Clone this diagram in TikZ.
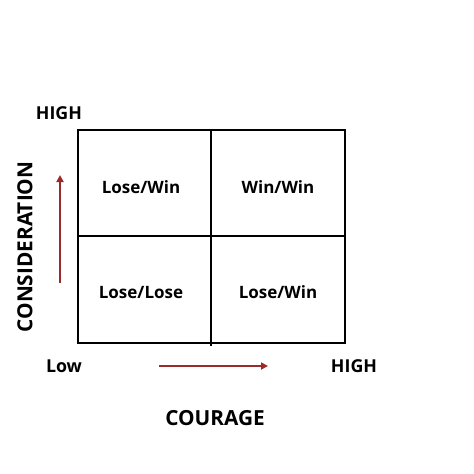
\documentclass[tikz,border=0pt]{standalone}
\usepackage{fontspec}
\setmainfont{Open Sans}
\usetikzlibrary{arrows.meta}
\definecolor{arrowred}{HTML}{9B2B2B}
\begin{document}
\begin{tikzpicture}[x=1pt,y=-1pt,
  cell/.style={font=\bfseries\fontsize{17}{19}\selectfont},
  axislabel/.style={font=\bfseries\fontsize{17.8}{20}\selectfont},
  title/.style={font=\bfseries\fontsize{20.8}{24}\selectfont},
  grid/.style={line width=1.8pt,black},
  axisarrow/.style={line width=2.2pt,arrowred,-{Triangle[length=7pt,width=7pt]}}]
\useasboundingbox (0,0) rectangle (474,474);
\coordinate (tl) at (78,130);
\coordinate (br) at (345,343);
\coordinate (mt) at (211,130);
\coordinate (mb) at (211,346);
\coordinate (ml) at (78,236);
\coordinate (mr) at (345,236);
\draw[grid] (tl) rectangle (br);
\draw[grid] (mt) -- (mb);
\draw[grid] (ml) -- (mr);
\node[cell] (q1) at (141,187) {Lose/Win};
\node[cell] (q2) at (278,187) {Win/Win};
\node[cell] (q3) at (141,293) {Lose/Lose};
\node[cell] (q4) at (278,292) {Lose/Win};
\node[axislabel] (yhigh) at (59,113) {HIGH};
\node[axislabel] (xlow) at (64,366) {Low};
\node[axislabel] (xhigh) at (354,366) {HIGH};
\node[title] (xt) at (215,418) {COURAGE};
\node[title,rotate=90] (yt) at (25,247) {CONSIDERATION};
\coordinate (va) at (60,283);
\coordinate (vb) at (60,175);
\coordinate (ha) at (159,366);
\coordinate (hb) at (268,366);
\draw[axisarrow] (va) -- (vb);
\draw[axisarrow] (ha) -- (hb);
\end{tikzpicture}
\end{document}
